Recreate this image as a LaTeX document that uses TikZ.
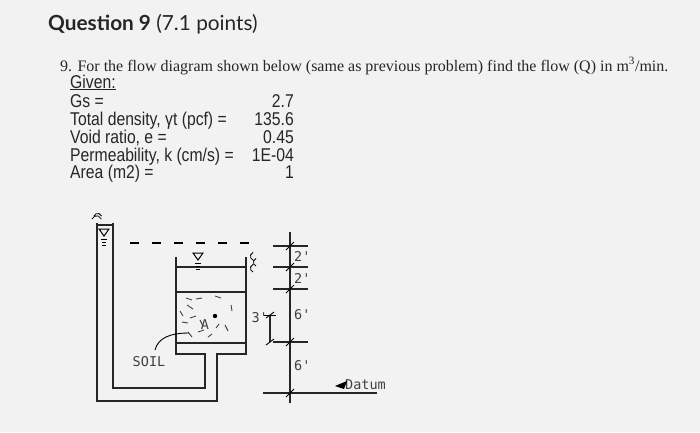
\documentclass[tikz,border=0pt]{standalone}
\usepackage{fontspec}
\setmainfont{Liberation Serif}
\newfontfamily\lato{Lato}
\newfontfamily\narrow{Liberation Sans}[FakeStretch=0.85]
\newfontfamily\mono{DejaVu Sans Mono}
\begin{document}
\begin{tikzpicture}[x=1pt,y=-1pt,
  wall/.style={line width=1.3pt,black!85},
  dim/.style={line width=1.2pt,black!85},
  giv/.style={anchor=base west,font=\narrow\fontsize{18.5}{20}\selectfont,text=black!85,inner sep=0},
  val/.style={anchor=base east,font=\narrow\fontsize{18.5}{20}\selectfont,text=black!85,inner sep=0},
  lab/.style={font=\mono\fontsize{13.5}{15}\selectfont,text=black!75,inner sep=0}]
\fill[black!5] (0,0) rectangle (700,432);
\useasboundingbox (0,0) rectangle (700,432);
\node[anchor=base west,inner sep=0,font=\lato\fontsize{20.8}{24}\selectfont,text=black!85] (title) at (48,30) {\textbf{Question 9} (7.1 points)};
\node[anchor=base west,inner sep=0,font=\fontsize{16}{18}\selectfont,text=black!85] (q) at (60,71) {9. For the flow diagram shown below (same as previous problem) find the flow (Q) in m\textsuperscript{3}/min.};
\node[giv] (g0) at (70,88) {\underline{Given:}};
\node[giv] (g1) at (70,107) {Gs =};
\node[giv] (g2) at (70,125) {Total density, γt (pcf) =};
\node[giv] (g3) at (70,143) {Void ratio, e =};
\node[giv] (g4) at (70,161) {Permeability, k (cm/s) =};
\node[giv] (g5) at (70,178) {Area (m2) =};
\node[val] (v1) at (294,107) {2.7};
\node[val] (v2) at (294,125) {135.6};
\node[val] (v3) at (294,143) {0.45};
\node[val] (v4) at (294,161) {1E-04};
\node[val] (v5) at (294,178) {1};
% tube and container
\draw[wall] (97,223) -- (97,401) -- (217,401) -- (217,354) -- (246,354) -- (246,257);
\draw[wall] (113,223) -- (113,388) -- (205,388) -- (205,354) -- (176,354) -- (176,257);
\draw[wall] (176,267) -- (246,267);
\draw[wall] (176,292) -- (246,292);
\draw[wall] (176,343) -- (246,343);
\draw[wall] (97,225) -- (113,225);
% water symbols
\draw[line width=1pt] (99,229) -- (109,229) -- (104,236) -- cycle;
\draw[line width=0.9pt] (101,239)--(107,239) (102,242)--(106,242) (102,245)--(106,245);
\draw[line width=1pt] (193,253) -- (203,253) -- (198,260) -- cycle;
\draw[line width=0.9pt] (195,263)--(201,263) (196,266)--(200,266) (196,269)--(200,269);
\draw[line width=1.2pt, dash pattern=on 9pt off 13pt] (130,243) -- (253,243);
% wiggles
\draw[line width=0.8pt] (92,219) arc (200:340:5) (94,216) arc (200:340:4);
\draw[line width=0.8pt] (253,260) arc (110:250:4) (256,266) arc (110:250:4) (253,272) arc (110:250:4);
% soil speckles
\foreach \a/\b/\c/\d in {186/298/192/300, 196/299/202/298, 187/305/193/309, 180/311/183/316, 190/318/196/316, 182/322/188/323, 200/320/203/326, 215/296/221/298, 231/305/232/311, 225/325/228/331, 188/332/192/337, 198/332/204/330, 208/337/212/334, 216/328/219/324}
  \draw[line width=0.9pt,black!75] (\a,\b) -- (\c,\d);
\fill (215,316) circle (2.2pt);
\node[lab] (A) at (205,325) {A};
\node[lab] (soil) at (149,362) {SOIL};
\draw[line width=0.9pt] (155,350) .. controls (158,338) and (170,333) .. (189,333);
% dimension line
\draw[dim] (290,232) -- (290,403);
\foreach \y in {246,267,289,342} \draw[dim] (273,\y) -- (308,\y);
\draw[dim] (263,393) -- (377,393);
\foreach \y in {246,267,289,342,393} \draw[line width=0.9pt] (286,\y+4) -- (294,\y-4);
\node[lab,anchor=west] (d1) at (294,256) {2'};
\node[lab,anchor=west] (d2) at (294,278) {2'};
\node[lab,anchor=west] (d3) at (294,315) {6'};
\node[lab,anchor=west] (d4) at (294,366) {6'};
\draw[dim] (270,315) -- (270,342);
\draw[line width=0.9pt] (266,318)--(274,312) (266,345)--(274,339);
\draw[line width=0.9pt] (264,315) -- (276,315);
\node[lab,anchor=east] (d5) at (268,318) {3'};
\node[lab,anchor=west] (dat) at (345,385) {Datum};
\fill (335,386) -- (347,381) -- (344,389) -- cycle;
\end{tikzpicture}
\end{document}
